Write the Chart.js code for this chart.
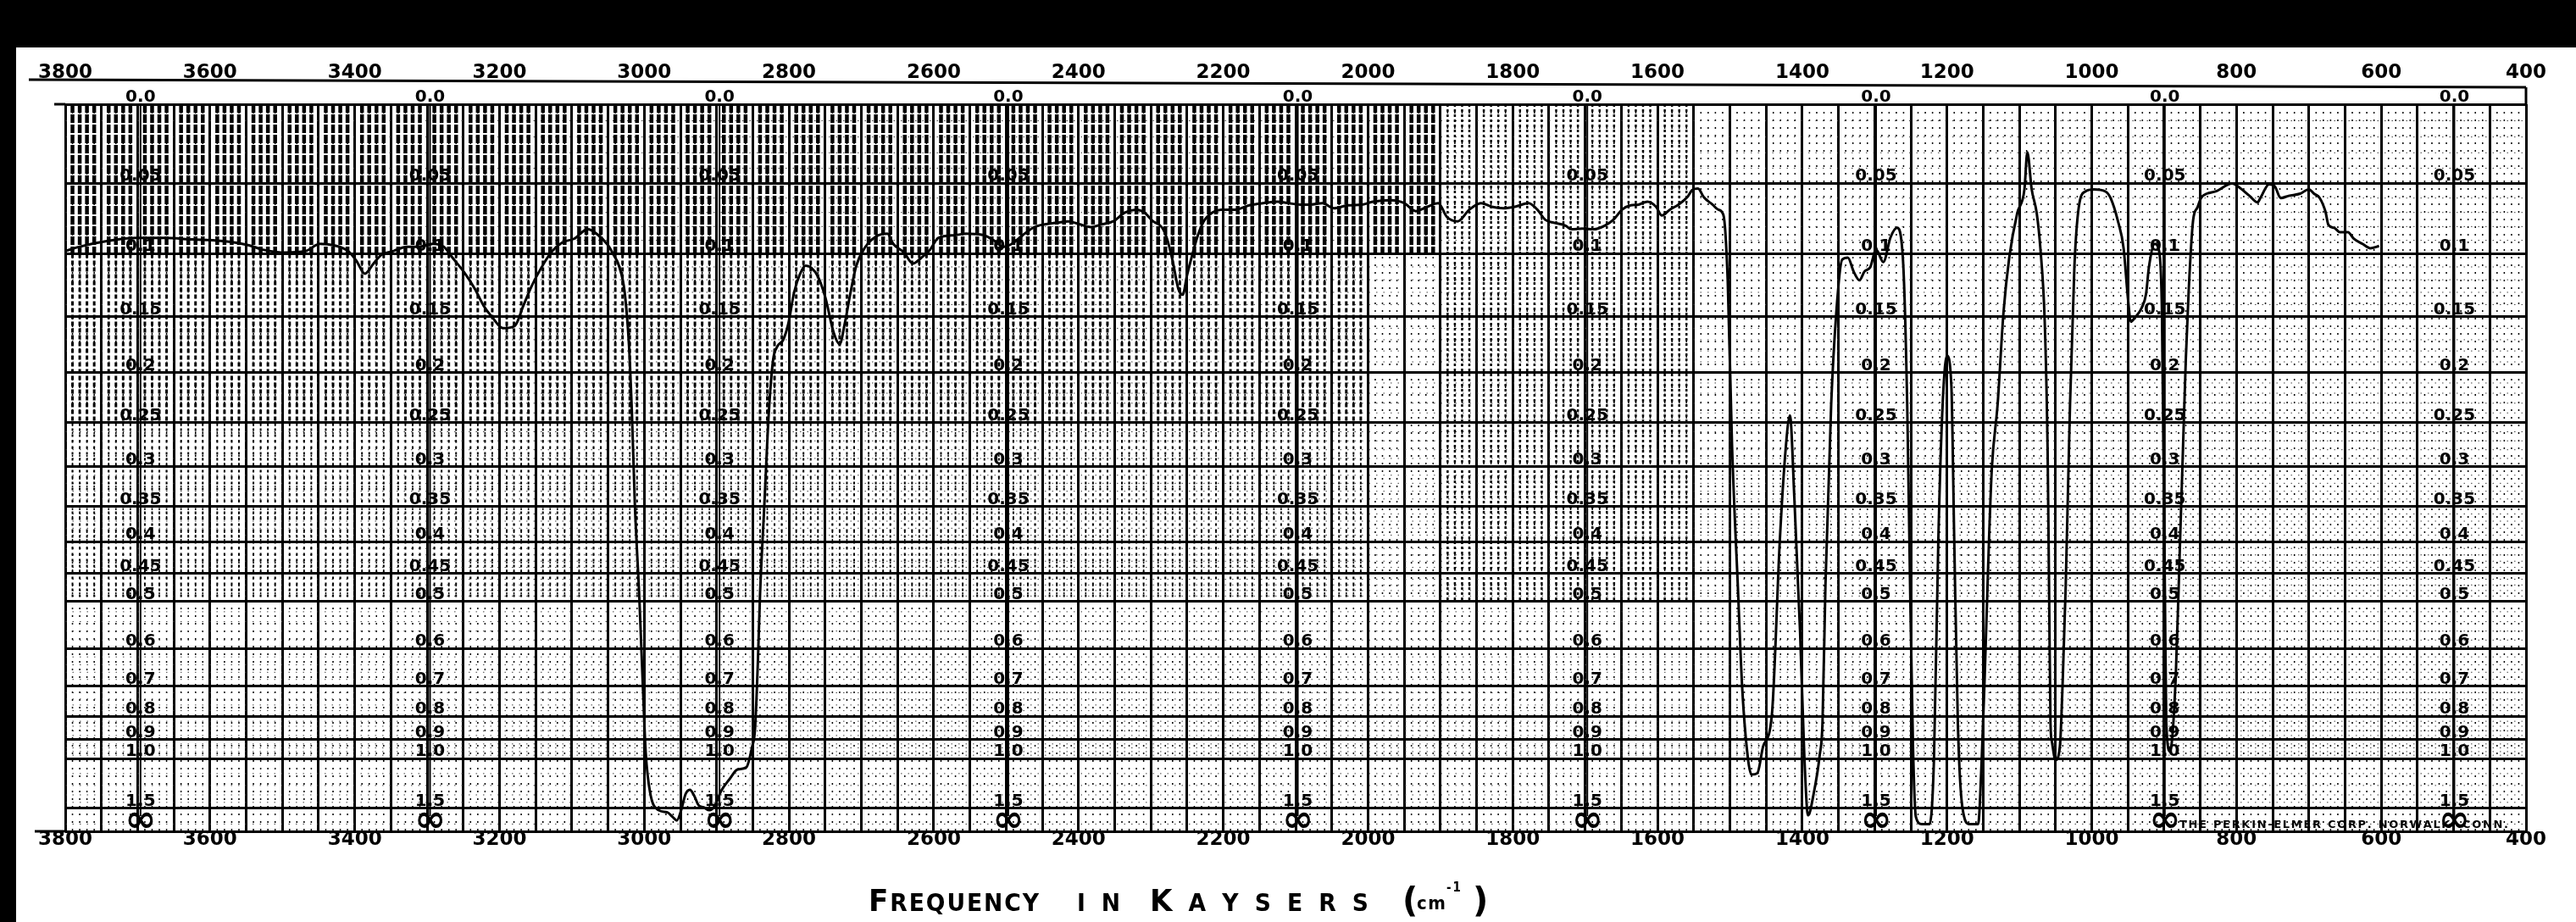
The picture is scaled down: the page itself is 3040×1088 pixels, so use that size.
<!DOCTYPE html>
<html>
<head>
<meta charset="utf-8">
<script src="https://cdn.jsdelivr.net/npm/chart.js@4.4.0/dist/chart.umd.min.js"></script>
<style>
  html, body { margin: 0; padding: 0; background: #fff; }
</style>
</head>
<body>
<canvas id="irChart" width="3040" height="1088"></canvas>
<script>
'use strict';

// trace, cm-1 from high to low
const wavenumbers = [
  3800, 3780, 3741, 3702, 3663, 3624, 3585, 3546, 3527, 3495, 3468, 3448, 3429, 3409, 3398, 3386,
  3374, 3363, 3347, 3328, 3312, 3292, 3277, 3265, 3249, 3234, 3222, 3210, 3195, 3179, 3167, 3156,
  3144, 3128, 3113, 3097, 3078, 3066, 3050, 3043, 3035, 3027, 3021, 3017, 3013, 3007, 3002, 2998,
  2992, 2980, 2968, 2961, 2955, 2949, 2943, 2937, 2931, 2925, 2918, 2910, 2902, 2894, 2882, 2871,
  2859, 2851, 2847, 2843, 2840, 2834, 2828, 2822, 2816, 2808, 2801, 2793, 2785, 2777, 2769, 2760,
  2750, 2738, 2730, 2723, 2715, 2707, 2695, 2680, 2664, 2656, 2641, 2629, 2617, 2605, 2594, 2570,
  2555, 2531, 2516, 2504, 2492, 2477, 2461, 2445, 2430, 2414, 2399, 2383, 2367, 2352, 2336, 2320,
  2309, 2297, 2285, 2278, 2270, 2262, 2256, 2250, 2242, 2235, 2227, 2215, 2203, 2184, 2164, 2145,
  2125, 2110, 2094, 2079, 2063, 2047, 2028, 2008, 1993, 1969, 1950, 1934, 1918, 1903, 1891, 1876,
  1860, 1844, 1829, 1813, 1797, 1778, 1766, 1755, 1743, 1727, 1719, 1704, 1688, 1673, 1661, 1649,
  1637, 1626, 1614, 1602, 1594, 1583, 1571, 1559, 1552, 1544, 1536, 1524, 1516, 1509, 1503, 1497,
  1489, 1483, 1475, 1470, 1462, 1454, 1442, 1431, 1423, 1417, 1411, 1403, 1397, 1392, 1384, 1376,
  1372, 1368, 1360, 1353, 1345, 1337, 1329, 1321, 1314, 1306, 1298, 1288, 1278, 1269, 1261, 1255,
  1251, 1247, 1243, 1235, 1224, 1218, 1212, 1206, 1200, 1194, 1190, 1185, 1179, 1169, 1157, 1152,
  1148, 1142, 1138, 1130, 1122, 1114, 1103, 1093, 1089, 1083, 1076, 1071, 1065, 1061, 1059, 1057,
  1055, 1050, 1044, 1040, 1036, 1030, 1024, 1018, 1009, 997, 981, 974, 964, 956, 950, 946,
  940, 931, 925, 921, 913, 907, 903, 901, 899, 897, 892, 884, 878, 874, 870, 866,
  860, 854, 849, 841, 829, 806, 798, 782, 771, 767, 755, 747, 739, 728, 712, 700,
  693, 685, 677, 673, 665, 657, 646, 638, 626, 615, 603
];
const transmittance = [
  0.798, 0.804, 0.812, 0.816, 0.816, 0.814, 0.812, 0.806, 0.800, 0.796, 0.798, 0.808, 0.806, 0.798, 0.785, 0.767,
  0.781, 0.793, 0.798, 0.804, 0.804, 0.808, 0.804, 0.789, 0.769, 0.746, 0.723, 0.707, 0.692, 0.695, 0.723, 0.749,
  0.772, 0.797, 0.810, 0.815, 0.828, 0.822, 0.806, 0.794, 0.778, 0.741, 0.667, 0.574, 0.450, 0.326, 0.202, 0.109,
  0.054, 0.029, 0.026, 0.020, 0.015, 0.029, 0.051, 0.057, 0.049, 0.036, 0.033, 0.029, 0.036, 0.055, 0.072, 0.085,
  0.088, 0.116, 0.140, 0.233, 0.326, 0.450, 0.574, 0.648, 0.667, 0.676, 0.698, 0.741, 0.766, 0.778, 0.775, 0.763,
  0.735, 0.685, 0.670, 0.698, 0.741, 0.778, 0.803, 0.818, 0.822, 0.808, 0.796, 0.781, 0.789, 0.800, 0.816, 0.820,
  0.822, 0.820, 0.812, 0.804, 0.808, 0.820, 0.831, 0.835, 0.837, 0.839, 0.835, 0.831, 0.835, 0.839, 0.851, 0.855,
  0.851, 0.839, 0.831, 0.816, 0.785, 0.746, 0.738, 0.765, 0.796, 0.820, 0.839, 0.851, 0.855, 0.855, 0.861, 0.864,
  0.866, 0.864, 0.862, 0.862, 0.864, 0.857, 0.861, 0.862, 0.866, 0.868, 0.864, 0.853, 0.859, 0.864, 0.845, 0.839,
  0.855, 0.864, 0.859, 0.857, 0.859, 0.864, 0.855, 0.841, 0.837, 0.833, 0.828, 0.829, 0.828, 0.833, 0.841, 0.855,
  0.861, 0.862, 0.866, 0.859, 0.847, 0.855, 0.862, 0.872, 0.882, 0.884, 0.872, 0.862, 0.855, 0.848, 0.758, 0.530,
  0.337, 0.198, 0.100, 0.078, 0.080, 0.117, 0.160, 0.400, 0.525, 0.572, 0.460, 0.274, 0.100, 0.022, 0.053, 0.104,
  0.150, 0.337, 0.588, 0.713, 0.786, 0.789, 0.770, 0.758, 0.770, 0.776, 0.800, 0.783, 0.817, 0.830, 0.789, 0.588,
  0.337, 0.117, 0.020, 0.010, 0.010, 0.100, 0.400, 0.588, 0.654, 0.613, 0.400, 0.148, 0.035, 0.010, 0.010, 0.100,
  0.210, 0.400, 0.500, 0.588, 0.713, 0.789, 0.850, 0.883, 0.934, 0.883, 0.850, 0.802, 0.701, 0.525, 0.337, 0.148,
  0.123, 0.098, 0.117, 0.211, 0.337, 0.588, 0.776, 0.858, 0.880, 0.883, 0.880, 0.871, 0.840, 0.802, 0.733, 0.701,
  0.707, 0.720, 0.739, 0.776, 0.808, 0.798, 0.713, 0.525, 0.337, 0.148, 0.110, 0.211, 0.399, 0.525, 0.650, 0.745,
  0.840, 0.858, 0.871, 0.877, 0.880, 0.891, 0.887, 0.874, 0.865, 0.871, 0.890, 0.887, 0.871, 0.874, 0.877, 0.883,
  0.877, 0.871, 0.852, 0.834, 0.830, 0.824, 0.824, 0.815, 0.808, 0.802, 0.805
];

// frequency labels printed above and below the grid
const freqLabels = [3800, 3600, 3400, 3200, 3000, 2800, 2600, 2400, 2200, 2000, 1800, 1600, 1400, 1200, 1000, 800, 600, 400];
// absorbance rulings (heavy lines) and their printed labels
const absorbanceMarks = [0, 0.05, 0.1, 0.15, 0.2, 0.25, 0.3, 0.35, 0.4, 0.45, 0.5, 0.6, 0.7, 0.8, 0.9, 1.0, 1.5];
const absorbanceLabels = ['0.0', '0.05', '0.1', '0.15', '0.2', '0.25', '0.3', '0.35', '0.4', '0.45', '0.5', '0.6', '0.7', '0.8', '0.9', '1.0', '1.5'];
// where the absorbance scale is repeated across the paper (cm-1)
const labelColumns = [3696, 3296, 2896, 2497, 2097, 1697, 1298, 899, 499];

const gridNu = [];
for (let v = 3800; v >= 400; v -= 50) gridNu.push(v);

const FONT = '"DejaVu Sans", "Liberation Sans", sans-serif';

// draws a word char by char, narrowed and spread out to fill x0..x1
function spacedWord(ctx, parts, x0, x1, base, squeeze) {
  const glyphs = [];
  parts.forEach(([t, size]) => { for (const ch of t) glyphs.push({ ch, size }); });
  let total = 0;
  glyphs.forEach(g => {
    ctx.font = `bold ${g.size}px ${FONT}`;
    g.w = ctx.measureText(g.ch).width * squeeze;
    total += g.w;
  });
  const gap = glyphs.length > 1 ? (x1 - x0 - total) / (glyphs.length - 1) : 0;
  let x = x0;
  glyphs.forEach(g => {
    ctx.font = `bold ${g.size}px ${FONT}`;
    ctx.save();
    ctx.translate(x, base);
    ctx.scale(squeeze, 1);
    ctx.fillText(g.ch, 0, 0);
    ctx.restore();
    x += g.w + gap;
  });
}

function seg(ctx, x0, y0, x1, y1, w, dash) {
  ctx.lineWidth = w;
  ctx.setLineDash(dash || []);
  ctx.beginPath();
  ctx.moveTo(x0, y0);
  ctx.lineTo(x1, y1);
  ctx.stroke();
}

const paper = {
  id: 'paper',
  beforeDraw(chart) {
    const { ctx, width, height } = chart;
    ctx.save();
    ctx.fillStyle = '#fff';
    ctx.fillRect(0, 0, width, height);
    ctx.fillStyle = '#000';
    ctx.fillRect(0, 0, width, 56);
    ctx.fillRect(0, 0, 19, height);
    ctx.restore();
  },
  beforeDatasetsDraw(chart) {
    const { ctx, chartArea: a, scales } = chart;
    const xs = scales.x, ys = scales.y;
    const yA = A => ys.getPixelForValue(Math.pow(10, -A));

    ctx.save();
    ctx.strokeStyle = '#000';
    ctx.fillStyle = '#000';

    // fine ruling of the paper
    ctx.save();
    ctx.beginPath();
    ctx.rect(a.left, a.top, a.right - a.left, a.bottom - a.top);
    ctx.clip();
    const minorNu = [];
    for (let v = 3790; v > 400; v -= 10) if (v % 50) minorNu.push(v);
    minorNu.forEach(v => {
      const px = xs.getPixelForValue(v);
      seg(ctx, px, a.top, px, a.bottom, 1.5, [2, 7]);
    });
    const rows = [];
    for (let k = 1; k < 50; k++) if (k % 5) rows.push(k / 100);
    for (let k = 26; k < 50; k++) if (k % 5) rows.push(k / 50);
    rows.push(1.1, 1.2, 1.3, 1.4, 2.0);
    ctx.strokeStyle = '#444';
    rows.forEach(A => {
      const py = yA(A);
      seg(ctx, a.left, py, a.right, py, 1, [1.5, 7]);
    });
    ctx.strokeStyle = '#000';
    // darker printed zones of the paper
    const zones = [
      { hi: 3800, lo: 1900, a0: 0, a1: 0.1, w: 4.5, dash: [10, 2] },
      { hi: 3800, lo: 2000, a0: 0.1, a1: 0.25, w: 3, dash: [5, 3] },
      { hi: 3800, lo: 2000, a0: 0.25, a1: 0.5, w: 2, dash: [3, 4] },
      { hi: 1900, lo: 1550, a0: 0, a1: 0.5, w: 2.5, dash: [3, 3] }
    ];
    zones.forEach(z => {
      minorNu.filter(v => v < z.hi && v > z.lo).forEach(v => {
        const px = xs.getPixelForValue(v);
        seg(ctx, px, yA(z.a0), px, yA(z.a1), z.w, z.dash);
      });
    });
    ctx.restore();

    // outer rules around the grid
    seg(ctx, 34, 94, a.right, 103, 3);
    seg(ctx, a.right, 103, a.right, a.top, 3);
    seg(ctx, 64, a.top, a.left, a.top, 3);
    seg(ctx, 41, a.bottom, a.left, a.bottom, 3);

    // repeated absorbance scale
    ctx.textAlign = 'center';
    labelColumns.forEach(nu => {
      const px = xs.getPixelForValue(nu);
      seg(ctx, px, a.top, px, a.bottom - 18, 2);
      ctx.font = `bold 20px ${FONT}`;
      ctx.textBaseline = 'alphabetic';
      absorbanceMarks.forEach((A, i) => {
        ctx.fillText(absorbanceLabels[i], px, yA(A) - 3);
      });
      ctx.font = `bold 44px ${FONT}`;
      ctx.textBaseline = 'middle';
      ctx.fillText('\u221E', px, a.bottom - 11);
    });

    // maker's imprint
    ctx.textAlign = 'left';
    ctx.textBaseline = 'alphabetic';
    spacedWord(ctx, [['THE PERKIN-ELMER CORP. NORWALK, CONN.', 13]], 2572, 2960, a.bottom - 4, 1);

    // axis title
    spacedWord(ctx, [['F', 36], ['REQUENCY', 28]], 1025, 1226, 1075, 0.95);
    spacedWord(ctx, [['IN', 28]], 1271, 1322, 1075, 0.95);
    spacedWord(ctx, [['K', 36], ['AYSERS', 28]], 1357, 1615, 1075, 0.95);
    ctx.font = `bold 40px ${FONT}`;
    ctx.fillText('(', 1655, 1076);
    ctx.fillText(')', 1738, 1076);
    spacedWord(ctx, [['cm', 22]], 1672, 1706, 1073, 0.9);
    spacedWord(ctx, [['-1', 15]], 1707, 1724, 1052, 0.9);

    ctx.restore();
  }
};

const tickFont = { family: FONT, weight: 'bold', size: 23 };
const setFreqTicks = scale => { scale.ticks = gridNu.map(v => ({ value: v })); };
const freqLabel = v => (freqLabels.includes(v) ? String(v) : '');

new Chart(document.getElementById('irChart'), {
  type: 'line',
  data: {
    datasets: [{
      data: wavenumbers.map((w, i) => ({ x: w, y: transmittance[i] })),
      borderColor: '#000',
      borderWidth: 3,
      pointRadius: 0,
      cubicInterpolationMode: 'monotone',
      fill: false
    }]
  },
  options: {
    responsive: false,
    animation: false,
    devicePixelRatio: 1,
    layout: { padding: { left: 77, right: 59, top: 49.4, bottom: 87.4 } },
    plugins: { legend: { display: false }, tooltip: { enabled: false } },
    scales: {
      x: {
        type: 'linear', position: 'bottom', reverse: true, min: 400, max: 3800,
        afterBuildTicks: setFreqTicks,
        ticks: { autoSkip: false, maxRotation: 0, padding: -4, color: '#000', font: tickFont, callback: freqLabel },
        grid: { color: '#000', lineWidth: 3, drawTicks: false },
        border: { display: false }
      },
      x2: {
        type: 'linear', position: 'top', reverse: true, min: 400, max: 3800,
        afterBuildTicks: setFreqTicks,
        ticks: { autoSkip: false, maxRotation: 0, padding: 23, color: '#000', font: tickFont, callback: freqLabel },
        grid: { display: false, drawTicks: false },
        border: { display: false }
      },
      y: {
        type: 'linear', min: 0, max: 1,
        afterBuildTicks: scale => {
          scale.ticks = absorbanceMarks.map(A => ({ value: Math.pow(10, -A) })).concat([{ value: 0 }]);
        },
        ticks: { display: false },
        grid: { color: '#000', lineWidth: 3, drawTicks: false },
        border: { display: false }
      }
    }
  },
  plugins: [paper]
});
</script>
</body>
</html>
